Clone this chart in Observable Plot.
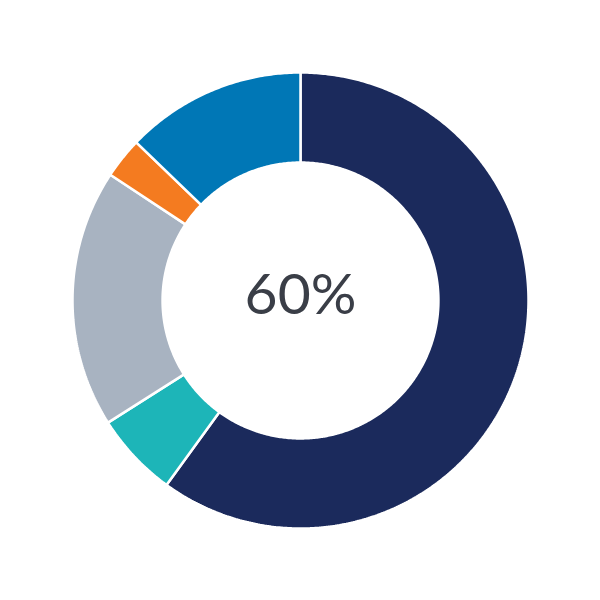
<!DOCTYPE html>
<html>
<head>
<meta charset="utf-8">
<script src="https://cdn.jsdelivr.net/npm/d3@7"></script>
<script src="https://cdn.jsdelivr.net/npm/@observablehq/plot@0.6"></script>
<style>
  body { margin: 0; background: #fff; }
</style>
</head>
<body>
<div id="chart"></div>
<script>
const categories = ["A", "B", "C", "D", "E"];
const values = [60, 6, 18.3, 2.9, 12.8];
const colors = ["#1b2a5c", "#1db5b8", "#a8b3c1", "#f47b20", "#0077b6"];
const centerLabel = ["60%"];

const outerR = 1, innerR = 0.605, extent = 300 / 228;
const pie = d3.pie().sort(null).value(d => d.value);
const arcs = pie(categories.map((c, i) => ({category: c, value: values[i]})));

function ring(a0, a1) {
  const n = Math.max(8, Math.ceil((a1 - a0) / 0.01));
  const pts = [];
  for (let k = 0; k <= n; k++) {
    const a = a0 + (a1 - a0) * k / n;
    pts.push([outerR * Math.sin(a), -outerR * Math.cos(a)]);
  }
  for (let k = n; k >= 0; k--) {
    const a = a0 + (a1 - a0) * k / n;
    pts.push([innerR * Math.sin(a), -innerR * Math.cos(a)]);
  }
  pts.push(pts[0]);
  return pts;
}

const features = arcs.map(d => ({
  type: "Feature",
  properties: {category: d.data.category},
  geometry: {type: "Polygon", coordinates: [ring(d.startAngle, d.endAngle)]}
}));

const frame = {type: "Polygon", coordinates: [[[-extent, -extent], [extent, -extent], [extent, extent], [-extent, extent], [-extent, -extent]]]};

const chart = Plot.plot({
  width: 600,
  height: 600,
  margin: 0,
  projection: {type: "identity", domain: frame},
  color: {domain: categories, range: colors},
  marks: [
    Plot.geo(features, {fill: d => d.properties.category, stroke: "white", strokeWidth: 2.5, strokeLinejoin: "miter"}),
    Plot.text(centerLabel, {x: () => 0, y: () => -0.02, text: d => d, fontSize: 57, fontFamily: "Lato", fontWeight: 400, fill: "#3a3e47"})
  ]
});
document.getElementById("chart").appendChild(chart);
</script>
</body>
</html>
